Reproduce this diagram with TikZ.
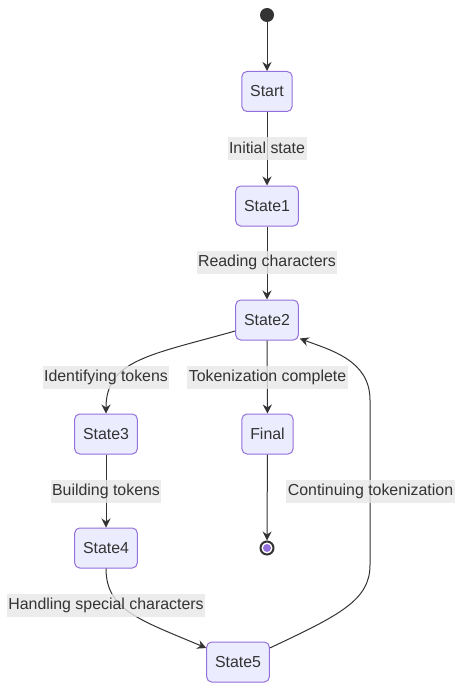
\documentclass[tikz,border=0pt]{standalone}
\usepackage{fontspec}
\setmainfont{Liberation Sans}
\usetikzlibrary{arrows.meta}
\definecolor{boxfill}{HTML}{ECECFF}
\definecolor{boxline}{HTML}{9370DB}
\definecolor{ink}{HTML}{333333}
\definecolor{lblbg}{HTML}{E8E8E8}
\begin{document}
\begin{tikzpicture}[x=1pt,y=-1pt,
  statebox/.style={draw=boxline,fill=boxfill,line width=1pt,rounded corners=5pt,
    minimum height=40pt,inner xsep=8.3pt,inner ysep=0pt,text=ink,
    font=\fontsize{15.9}{18}\selectfont},
  lbl/.style={fill=lblbg,fill opacity=0.8,text opacity=1,text=ink,
    minimum height=23pt,inner xsep=1.5pt,inner ysep=0pt,
    font=\fontsize{15.9}{18}\selectfont},
  arr/.style={draw=ink,line width=1pt,-{Stealth[length=9pt,width=9pt,inset=3pt]}}]
\useasboundingbox (0,0) rectangle (462,690);
\fill[white] (0,0) rectangle (462,690);

\node[circle,fill=ink,minimum size=14pt,inner sep=0pt] (init) at (267,15) {};
\node[statebox] (start) at (267,91.5) {Start};
\node[statebox] (s1) at (267,206) {State1};
\node[statebox] (s2) at (267,320) {State2};
\node[statebox] (s3) at (106,434) {State3};
\node[statebox] (fin) at (267.5,434) {Final};
\node[statebox] (s4) at (106,548) {State4};
\node[statebox] (s5) at (238,662) {State5};
\node[circle,draw=ink,line width=2pt,minimum size=13pt,inner sep=0pt] (end) at (267,548) {};
\fill[boxline] (end.center) circle (4pt);

\draw[arr] (init) -- (start);
\draw[arr] (start) -- (s1);
\draw[arr] (s1) -- (s2);
\draw[arr] ([yshift=-11pt]s2.west) .. controls (150,355) and (106,360) .. (s3.north);
\draw[arr] (s2) -- (fin);
\draw[arr] (s3) -- (s4);
\draw[arr] (fin) -- (end);
\draw[arr] (s4.south) .. controls (106,610) and (140,620) .. ([yshift=14pt]s5.west);
\draw[arr] ([yshift=14pt]s5.east) .. controls (340,615) and (370,600) .. (370,565)
  -- (370,400) .. controls (370,360) and (330,350) .. ([shift={(1pt,2pt)}]s2.south east);

\node[lbl] (l1) at (267,148) {Initial state};
\node[lbl] (l2) at (267,262) {Reading characters};
\node[lbl] (l3) at (106,377) {Identifying tokens};
\node[lbl] (l4) at (267.5,377) {Tokenization complete};
\node[lbl] (l5) at (106,491) {Building tokens};
\node[lbl] (l6) at (370.5,491) {Continuing tokenization};
\node[lbl] (l7) at (106,605) {Handling special characters};
\end{tikzpicture}
\end{document}
